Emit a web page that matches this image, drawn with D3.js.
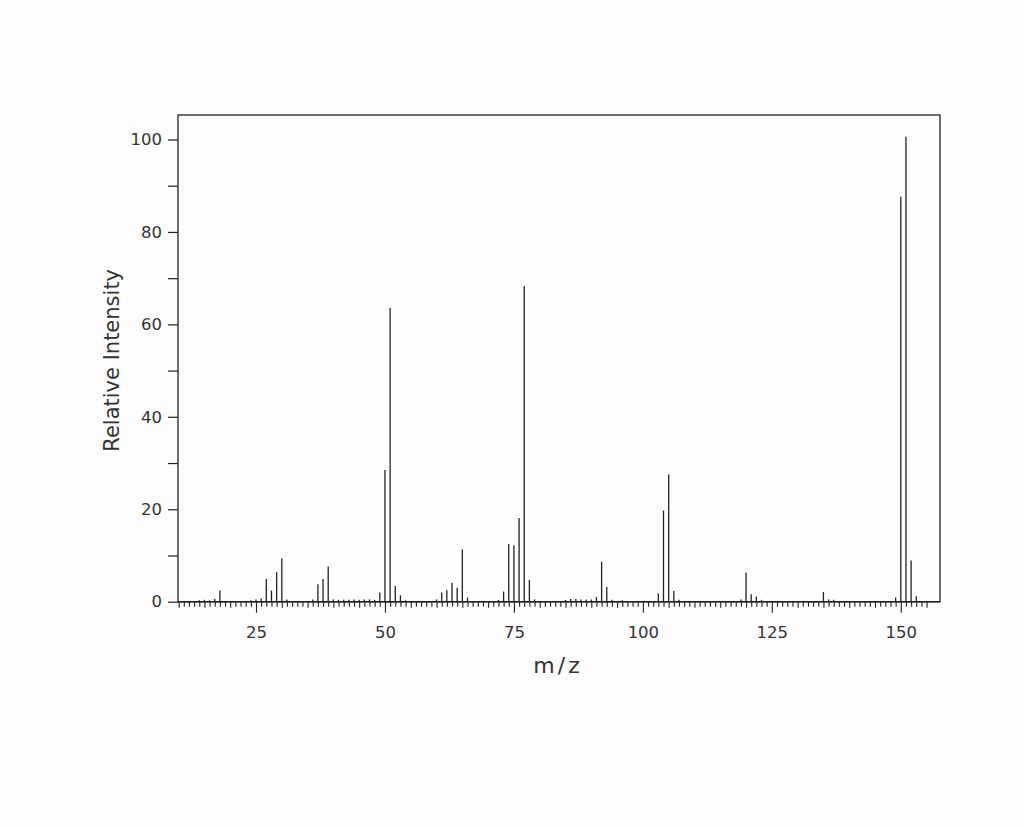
<!DOCTYPE html>
<html>
<head>
<meta charset="utf-8">
<script src="https://cdn.jsdelivr.net/npm/d3@7"></script>
<style>
  html, body { margin: 0; padding: 0; background: #fdfdfd; }
  svg { display: block; }
  text { font-family: "DejaVu Sans", "Liberation Sans", sans-serif; fill: #333; }
</style>
</head>
<body>
<script>
// m/z values and relative intensities
const mz = [14, 15, 16, 17, 18, 24, 25, 26, 27, 28, 29, 30, 31, 36, 37, 38, 39, 40, 41, 42, 43, 44, 45, 46, 47, 48, 49, 50, 51, 52, 53, 54,
            60, 61, 62, 63, 64, 65, 66, 72, 73, 74, 75, 76, 77, 78, 79, 85, 86, 87, 88, 89, 90, 91, 92, 93, 94, 96,
            103, 104, 105, 106, 107, 119, 120, 121, 122, 123, 135, 136, 137, 149, 150, 151, 152, 153];
const intensity = [0.3, 0.4, 0.3, 0.6, 2.4, 0.3, 0.5, 0.7, 4.9, 2.4, 6.4, 9.4, 0.5, 0.5, 3.8, 4.9, 7.6, 0.5, 0.4, 0.4, 0.4, 0.5, 0.4, 0.5, 0.5, 0.4, 2.0, 28.5, 63.6, 3.4, 1.4, 0.3,
            0.5, 2.0, 2.5, 4.1, 3.0, 11.3, 0.9, 0.4, 2.2, 12.5, 12.2, 18.1, 68.3, 4.7, 0.5, 0.4, 0.6, 0.6, 0.5, 0.5, 0.5, 1.0, 8.65, 3.2, 0.4, 0.3,
            1.8, 19.7, 27.5, 2.3, 0.4, 0.5, 6.3, 1.6, 1.1, 0.4, 2.1, 0.5, 0.4, 0.9, 87.6, 100.6, 8.9, 1.2];
const xTickLabels = [25, 50, 75, 100, 125, 150];
const yTickLabels = [0, 20, 40, 60, 80, 100];
const xLabel = "m/z";
const yLabel = "Relative Intensity";

const W = 1024, H = 827;
const pLeft = 178, pRight = 940, pTop = 115, pBottom = 601.7;

const svg = d3.select("body").append("svg").attr("width", W).attr("height", H);

const x = d3.scaleLinear().domain([9.88, 157.6]).range([pLeft, pRight]);
const y = d3.scaleLinear().domain([0, 105.3]).range([pBottom, pTop]);

// frame
svg.append("rect")
  .attr("x", pLeft).attr("y", pTop)
  .attr("width", pRight - pLeft).attr("height", pBottom - pTop)
  .attr("fill", "none").attr("stroke", "#222").attr("stroke-width", 1.3);

// y axis: ticks every 10, labels at 20s
const yAxis = d3.axisLeft(y)
  .tickValues(d3.range(0, 101, 10))
  .tickSize(10).tickPadding(6)
  .tickFormat(d => yTickLabels.includes(d) ? d : "");
const gy = svg.append("g").attr("transform", `translate(${pLeft},0)`).call(yAxis);
gy.select(".domain").remove();
gy.selectAll(".tick line").attr("stroke", "#222").attr("stroke-width", 1.2);
gy.selectAll(".tick text").style("font-size", "16.5px").attr("fill", "#3a3a3a");

// x axis: minor ticks every 1
const xAxis = d3.axisBottom(x)
  .tickValues(d3.range(10, 156, 1))
  .tickSize(4).tickPadding(16)
  .tickFormat(d => xTickLabels.includes(d) ? d : "");
const gx = svg.append("g").attr("transform", `translate(0,${pBottom})`).call(xAxis);
gx.select(".domain").remove();
gx.selectAll(".tick line")
  .attr("stroke", "#222").attr("stroke-width", 1.1)
  .attr("y2", d => d % 25 === 0 ? 11 : (d % 5 === 0 ? 6 : 5));
gx.selectAll(".tick text").style("font-size", "16.5px").attr("fill", "#3a3a3a").attr("dy", "0.71em").attr("y", 25);

// baseline
svg.append("line")
  .attr("x1", pLeft).attr("x2", pRight).attr("y1", pBottom).attr("y2", pBottom)
  .attr("stroke", "#222").attr("stroke-width", 1.4);

// peaks
svg.append("g").selectAll("line.peak")
  .data(mz.map((m, i) => ({ m, v: intensity[i] })))
  .join("line")
  .attr("class", "peak")
  .attr("x1", d => x(d.m)).attr("x2", d => x(d.m))
  .attr("y1", y(0)).attr("y2", d => y(d.v))
  .attr("stroke", "#222").attr("stroke-width", 1.3);

// axis titles
svg.append("text")
  .attr("x", 558).attr("y", 673)
  .attr("text-anchor", "middle")
  .style("font-size", "22px")
  .style("letter-spacing", "3px")
  .attr("fill", "#3a3a3a")
  .text(xLabel);

svg.append("text")
  .attr("transform", `translate(119,${(pTop + pBottom) / 2 + 2}) rotate(-90)`)
  .attr("text-anchor", "middle")
  .style("font-size", "21px")
  .attr("fill", "#3a3a3a")
  .text(yLabel);
</script>
</body>
</html>
